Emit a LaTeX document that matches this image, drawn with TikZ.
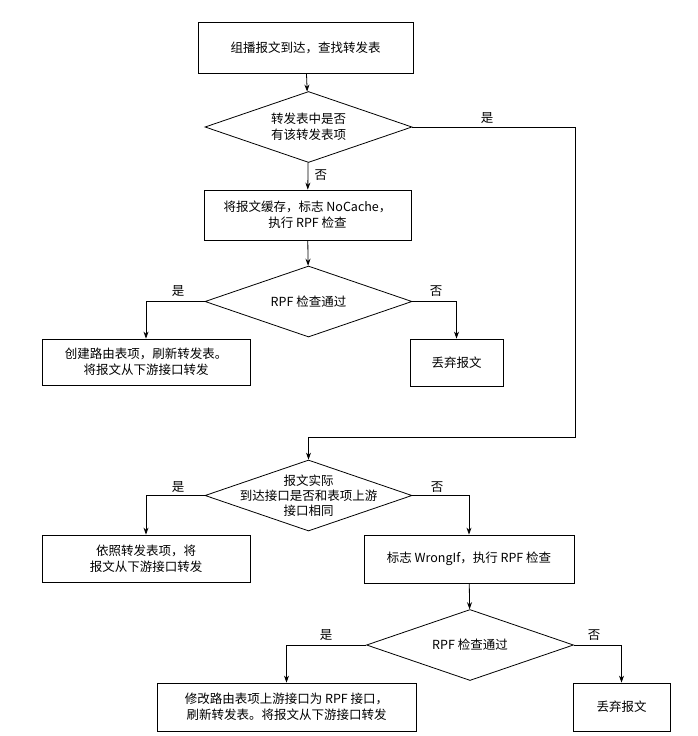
\documentclass[tikz,border=0pt]{standalone}
\usepackage{fontspec}
\setmainfont{Noto Sans CJK SC}
\usetikzlibrary{shapes.geometric,arrows.meta}
\begin{document}
\begin{tikzpicture}[x=1pt,y=-1pt,
  box/.style={draw,line width=0.8pt,align=center,inner sep=0pt,font=\fontsize{12.5}{16}\selectfont},
  dia/.style={draw,diamond,line width=0.8pt,inner sep=0pt,minimum width=207pt,minimum height=71pt},
  txt/.style={align=center,font=\fontsize{12.5}{16}\selectfont},
  lab/.style={font=\fontsize{12.5}{15}\selectfont},
  arr/.style={line width=0.8pt,-{Stealth[length=7pt,width=5pt]}},
  ln/.style={line width=0.8pt}]
\useasboundingbox (0,0) rectangle (697,736);
\node[box,minimum width=215pt,minimum height=51pt] (b1) at (305.5,47.5) {组播报文到达，查找转发表};
\node[dia] (d1) at (308.5,127) {};
\node[txt] (t1) at (308.5,127) {转发表中是否\\有该转发表项};
\node[box,minimum width=207pt,minimum height=50pt] (b2) at (307.5,215) {将报文缓存，标志 NoCache，\\执行 RPF 检查};
\node[dia] (d2) at (308.5,301.5) {};
\node[txt] (t2) at (308.5,301.5) {RPF 检查通过};
\node[box,minimum width=208pt,minimum height=46pt] (b3) at (146,362) {创建路由表项，刷新转发表。\\将报文从下游接口转发};
\node[box,minimum width=93pt,minimum height=47pt] (b4) at (456.5,362.5) {丢弃报文};
\node[dia] (d3) at (308.5,495.5) {};
\node[txt,font=\fontsize{12.5}{15}\selectfont] (t3) at (308.5,495.5) {报文实际\\到达接口是否和表项上游\\接口相同};
\node[box,minimum width=208pt,minimum height=47pt] (b5) at (146,558.5) {依照转发表项，将\\报文从下游接口转发};
\node[box,minimum width=210pt,minimum height=48pt] (b6) at (469,559) {标志 WrongIf，执行 RPF 检查};
\node[dia] (d4) at (470,645) {};
\node[txt] (t4) at (470,645) {RPF 检查通过};
\node[box,minimum width=259pt,minimum height=48pt] (b7) at (286.5,707) {修改路由表项上游接口为 RPF 接口，\\刷新转发表。将报文从下游接口转发};
\node[box,minimum width=97pt,minimum height=48pt] (b8) at (621.5,707) {丢弃报文};
\coordinate (c1) at (575,437);
\coordinate (c2) at (308.5,437);
\draw[arr] (b1) -- (d1);
\draw[arr] (d1) -- (b2) node[lab,pos=0.45,right=3pt] {否};
\draw[arr] (b2) -- (d2);
\draw[arr] (d2.west) -| (b3.north);
\node[lab] at (178,291) {是};
\draw[arr] (d2.east) -| (b4.north);
\node[lab] at (436,291) {否};
\draw[ln] (d1.east) -| (c1) -- (c2);
\draw[arr] (c2) -- (d3.north);
\node[lab] at (487,118) {是};
\draw[arr] (d3.west) -| (b5.north);
\node[lab] at (178,487) {是};
\draw[arr] (d3.east) -| (b6.north);
\node[lab] at (437,487) {否};
\draw[arr] (b6) -- (d4);
\draw[arr] (d4.west) -| (b7.north);
\node[lab] at (326,635) {是};
\draw[arr] (d4.east) -| (b8.north);
\node[lab] at (594,635) {否};
\end{tikzpicture}
\end{document}
